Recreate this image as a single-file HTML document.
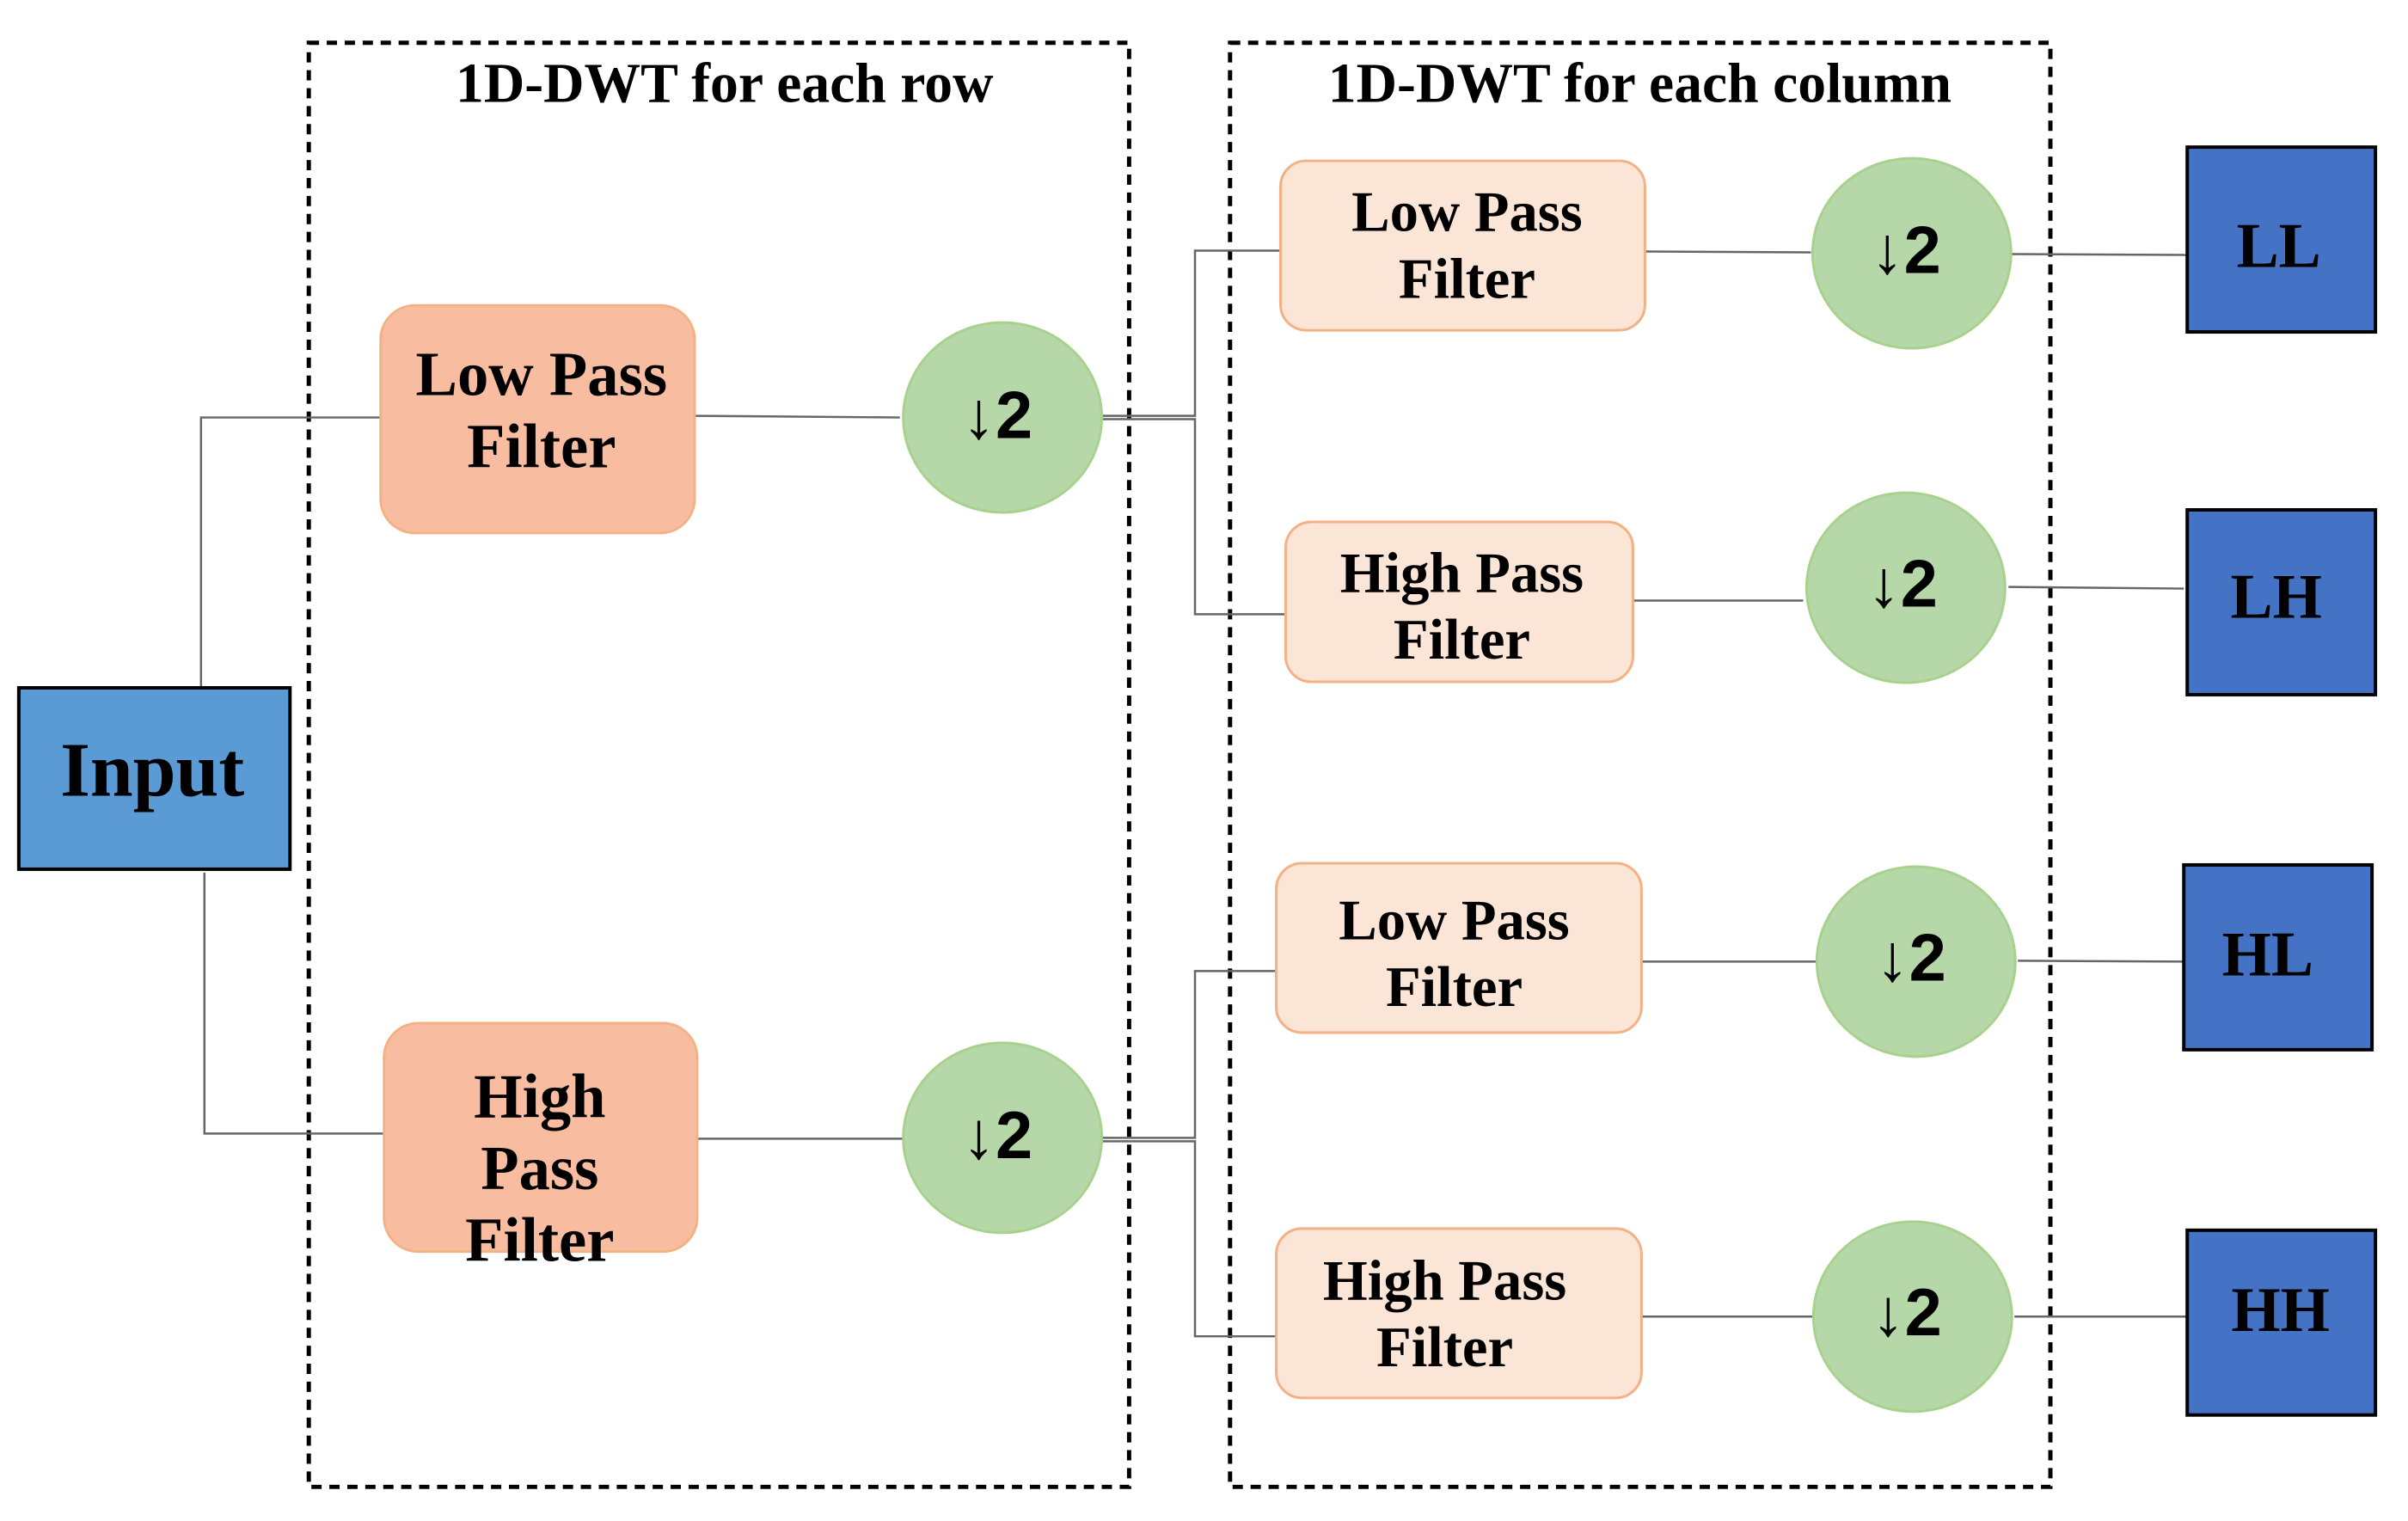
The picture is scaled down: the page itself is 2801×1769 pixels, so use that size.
<!DOCTYPE html>
<html><head><meta charset="utf-8"><style>
html,body{margin:0;padding:0;background:#fff}
svg text{font-family:"Liberation Serif",serif;font-weight:bold;fill:#000}
.s{font-family:"Liberation Sans",sans-serif}
</style></head><body>
<svg width="2801" height="1764" viewBox="0 0 2801 1764" xmlns="http://www.w3.org/2000/svg">
<g transform="scale(0.995)">
<g fill="none" stroke="#000" stroke-width="5" stroke-dasharray="12,9">
<rect x="361" y="50" width="959" height="1688"/>
<rect x="1438" y="50" width="959" height="1688"/>
</g>
<text x="847" y="119" font-size="66" text-anchor="middle">1D-DWT for each row</text>
<text x="1917" y="119" font-size="66" text-anchor="middle">1D-DWT for each column</text>
<g fill="none" stroke="#666" stroke-width="2.5">
<polyline points="235,803 235,488 445,488"/>
<polyline points="239,1020 239,1325 449,1325"/>
<line x1="812" y1="486" x2="1052" y2="488"/>
<line x1="815" y1="1331" x2="1055" y2="1331"/>
<polyline points="1289,486 1397,486 1397,293 1503,293"/>
<polyline points="1289,490 1397,490 1397,718 1503,718"/>
<polyline points="1289,1330 1397,1330 1397,1135 1500,1135"/>
<polyline points="1289,1334 1397,1334 1397,1562 1505,1562"/>
<line x1="1923" y1="294" x2="2117" y2="295"/>
<line x1="1909" y1="702" x2="2108" y2="702"/>
<line x1="1919" y1="1124" x2="2124" y2="1124"/>
<line x1="1919" y1="1539" x2="2121" y2="1539"/>
<line x1="2352" y1="297" x2="2557" y2="298"/>
<line x1="2348" y1="686" x2="2553" y2="688"/>
<line x1="2359" y1="1123" x2="2553" y2="1124"/>
<line x1="2355" y1="1539" x2="2557" y2="1539"/>
</g>
<rect x="22" y="804" width="317" height="212" fill="#5b9bd5" stroke="#000" stroke-width="4"/>
<text x="178" y="930" font-size="90" text-anchor="middle">Input</text>
<g fill="#f8bda0" stroke="#f4b183" stroke-width="3">
<rect x="445" y="357" width="367" height="266" rx="40"/>
<rect x="449" y="1196" width="366" height="267" rx="40"/>
</g>
<text font-size="73" text-anchor="middle"><tspan x="633" y="462">Low Pass</tspan><tspan x="633" y="546">Filter</tspan></text>
<text font-size="73" text-anchor="middle"><tspan x="631" y="1306">High</tspan><tspan x="631" y="1390">Pass</tspan><tspan x="631" y="1474">Filter</tspan></text>
<g fill="#fbe5d6" stroke="#f4b183" stroke-width="3">
<rect x="1497" y="188" width="426" height="198" rx="30"/>
<rect x="1503" y="610" width="406" height="187" rx="30"/>
<rect x="1492" y="1009" width="427" height="198" rx="30"/>
<rect x="1492" y="1436" width="427" height="198" rx="30"/>
</g>
<text font-size="67" text-anchor="middle"><tspan x="1715" y="270">Low Pass</tspan><tspan x="1715" y="348">Filter</tspan></text>
<text font-size="67" text-anchor="middle"><tspan x="1709" y="692">High Pass</tspan><tspan x="1709" y="770">Filter</tspan></text>
<text font-size="67" text-anchor="middle"><tspan x="1700" y="1098">Low Pass</tspan><tspan x="1700" y="1176">Filter</tspan></text>
<text font-size="67" text-anchor="middle"><tspan x="1689" y="1519">High Pass</tspan><tspan x="1689" y="1597">Filter</tspan></text>
<g fill="#b6d7a8" stroke="#a9d18e" stroke-width="3">
<ellipse cx="1172" cy="488" rx="116" ry="111"/>
<ellipse cx="1172" cy="1330" rx="116" ry="111"/>
<ellipse cx="2235" cy="296" rx="116" ry="111"/>
<ellipse cx="2228" cy="687" rx="116" ry="111"/>
<ellipse cx="2240" cy="1124" rx="116" ry="111"/>
<ellipse cx="2236" cy="1539" rx="116" ry="111"/>
</g>
<g font-size="78" text-anchor="middle">
<text class="s" x="1166" y="512">↓2</text>
<text class="s" x="1166" y="1354">↓2</text>
<text class="s" x="2228" y="319">↓2</text>
<text class="s" x="2224" y="709">↓2</text>
<text class="s" x="2234" y="1146">↓2</text>
<text class="s" x="2229" y="1561">↓2</text>
</g>
<g fill="#4472c4" stroke="#000" stroke-width="4">
<rect x="2557" y="172" width="220" height="216"/>
<rect x="2557" y="596" width="220" height="216"/>
<rect x="2553" y="1011" width="220" height="216"/>
<rect x="2557" y="1438" width="220" height="216"/>
</g>
<g font-size="74" text-anchor="middle">
<text x="2664" y="312">LL</text>
<text x="2661" y="722">LH</text>
<text x="2651" y="1140">HL</text>
<text x="2666" y="1556">HH</text>
</g>
</g>
</svg>
</body></html>
